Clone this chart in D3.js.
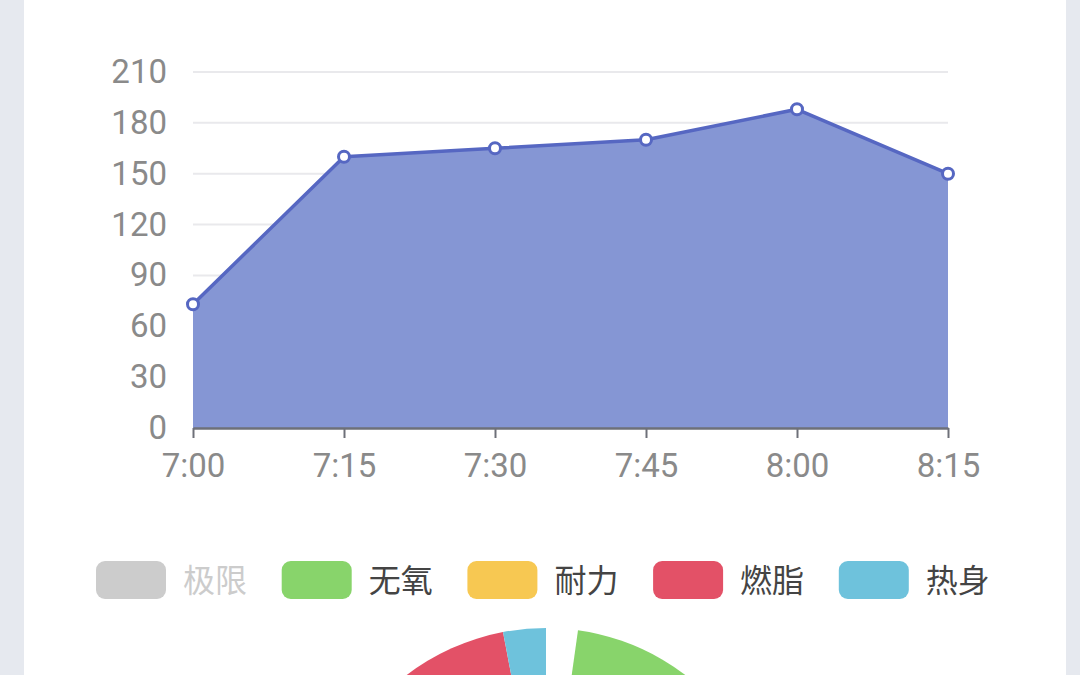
<!DOCTYPE html>
<html>
<head>
<meta charset="utf-8">
<script src="https://cdn.jsdelivr.net/npm/d3@7"></script>
<style>
  html, body { margin: 0; padding: 0; background: #e6e9ef; }
  #wrapper { width: 1080px; height: 675px; overflow: hidden; }
  svg { display: block; font-family: Roboto, "Noto Sans CJK SC", sans-serif; }
</style>
</head>
<body>
<div id="wrapper"></div>
<script>
// data
const times = ["7:00", "7:15", "7:30", "7:45", "8:00", "8:15"]
const heartRates = [73, 160, 165, 170, 188, 150]
const yTicks = [0, 30, 60, 90, 120, 150, 180, 210]

const zoneNames = ["极限", "无氧", "耐力", "燃脂", "热身"]
const zoneColors = ["#cccccc", "#88d46b", "#f7c852", "#e35167", "#6ec2dc"]
const zoneShown = [false, true, true, true, true]
const zoneValues = [0, 25, 40, 30, 3]

function drawChart() {

  const width = 1080
  const height = 675

  const svg = d3.select("#wrapper")
    .append("svg")
      .attr("width", width)
      .attr("height", height)

  // white card
  svg.append("rect")
      .attr("x", 24)
      .attr("y", -20)
      .attr("width", 1042)
      .attr("height", height + 40)
      .attr("rx", 10)
      .attr("fill", "#ffffff")

  // scales
  const xScale = d3.scalePoint()
      .domain(times)
      .range([193, 948])

  const yScale = d3.scaleLinear()
      .domain([0, 210])
      .range([428, 72])

  // grid lines
  svg.append("g")
    .selectAll("line")
    .data(yTicks.slice(1))
    .enter().append("line")
      .attr("x1", 193)
      .attr("x2", 948)
      .attr("y1", d => yScale(d))
      .attr("y2", d => yScale(d))
      .attr("stroke", "#e9e9ec")
      .attr("stroke-width", 2)

  // area + line
  const areaGenerator = d3.area()
      .x((d, i) => xScale(times[i]))
      .y0(yScale(0))
      .y1(d => yScale(d))

  const lineGenerator = d3.line()
      .x((d, i) => xScale(times[i]))
      .y(d => yScale(d))

  svg.append("path")
      .attr("d", areaGenerator(heartRates))
      .attr("fill", "#8596d4")

  svg.append("path")
      .attr("d", lineGenerator(heartRates))
      .attr("fill", "none")
      .attr("stroke", "#5667c2")
      .attr("stroke-width", 3.5)
      .attr("stroke-linejoin", "round")

  // y axis
  const yAxis = d3.axisLeft(yScale)
      .tickValues(yTicks)
      .tickSize(0)
      .tickPadding(26)

  const yAxisG = svg.append("g")
      .attr("transform", "translate(193,0)")
      .call(yAxis)
  yAxisG.select(".domain").remove()
  yAxisG.selectAll("text")
      .attr("fill", "#8a8a8a")
      .attr("font-size", 33)
      .attr("font-family", "Roboto, sans-serif")

  // x axis
  const xAxis = d3.axisBottom(xScale)
      .tickSize(10)
      .tickPadding(16)
      .tickSizeOuter(0)

  const xAxisG = svg.append("g")
      .attr("transform", `translate(0,${yScale(0)})`)
      .call(xAxis)
  xAxisG.select(".domain")
      .attr("stroke", "#6e7079")
      .attr("stroke-width", 2.5)
  xAxisG.selectAll(".tick line")
      .attr("stroke", "#6e7079")
      .attr("stroke-width", 2)
  xAxisG.selectAll("text")
      .attr("fill", "#8a8a8a")
      .attr("font-size", 33)
      .attr("font-family", "Roboto, sans-serif")

  // points
  svg.append("g")
    .selectAll("circle")
    .data(heartRates)
    .enter().append("circle")
      .attr("cx", (d, i) => xScale(times[i]))
      .attr("cy", d => yScale(d))
      .attr("r", 5.5)
      .attr("fill", "#ffffff")
      .attr("stroke", "#5667c2")
      .attr("stroke-width", 3)

  // legend
  const legend = svg.append("g")
      .attr("transform", "translate(96,580)")

  const legendItems = legend.selectAll("g")
    .data(zoneNames)
    .enter().append("g")
      .attr("transform", (d, i) => `translate(${i * 185.7},0)`)

  legendItems.append("rect")
      .attr("x", 0)
      .attr("y", -19)
      .attr("width", 70)
      .attr("height", 38)
      .attr("rx", 9)
      .attr("fill", (d, i) => zoneShown[i] ? zoneColors[i] : "#cccccc")

  legendItems.append("text")
      .attr("x", 87)
      .attr("y", 0)
      .attr("dy", "0.36em")
      .attr("font-size", 32)
      .attr("font-family", "'Noto Sans CJK SC', sans-serif")
      .attr("fill", (d, i) => zoneShown[i] ? "#444444" : "#cccccc")
      .text(d => d)

  // pie (only its top is in view)
  const pieData = zoneNames.map((name, i) => ({
    name, value: zoneValues[i], color: zoneColors[i]
  })).filter((d, i) => zoneShown[i])

  const pie = d3.pie()
      .value(d => d.value)
      .sort(null)
      .startAngle(8 * Math.PI / 180)
      .endAngle(2 * Math.PI)

  const arc = d3.arc()
      .innerRadius(0)
      .outerRadius(230)

  svg.append("g")
      .attr("transform", "translate(546,858)")
    .selectAll("path")
    .data(pie(pieData))
    .enter().append("path")
      .attr("d", arc)
      .attr("fill", d => d.data.color)
}
drawChart()
</script>
</body>
</html>
